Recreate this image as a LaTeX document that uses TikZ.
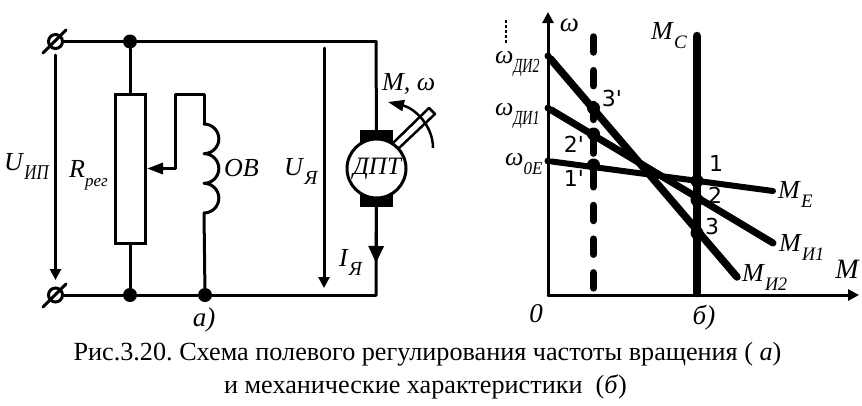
\documentclass[tikz,border=0pt]{standalone}
\usepackage{fontspec}
\usepackage{graphicx}
\setmainfont{Liberation Serif}
\newfontfamily\digitfont{DejaVu Sans}
\usetikzlibrary{arrows.meta}
\frenchspacing
\newcommand{\sublabel}[4]{\textit{#3}\raisebox{-9pt}{\scalebox{#2}[1]{\fontsize{#1}{#1}\selectfont\itshape #4}}}
\tikzset{
	wire/.style={line width=3pt, line cap=round, line join=round},
	junction/.style={circle, fill=black, inner sep=0pt, minimum size=14pt},
	terminal/.style={circle, draw=black, line width=3pt, fill=white, inner sep=0pt, minimum size=14pt},
	label/.style={inner sep=0pt, anchor=base west, font=\fontsize{26}{26}\selectfont},
	bigital/.style={inner sep=0pt, font=\fontsize{27}{27}\selectfont\itshape},
	digit/.style={inner sep=0pt, font=\fontsize{22}{22}\selectfont\digitfont},
	chardot/.style={circle, fill=black, inner sep=0pt, minimum size=13pt},
	axisdot/.style={circle, fill=black, inner sep=0pt, minimum size=7pt},
	charline/.style={line width=7.5pt, line cap=round},
	volt/.style={wire, -{Triangle[length=11pt, width=11pt]}},
	brush/.style={fill=black, minimum width=33pt, minimum height=12pt, inner sep=0pt}
}
\begin{document}
\begin{tikzpicture}[x=1pt, y=-1pt]
	\useasboundingbox (0, 0) rectangle (862, 405);
	%%%%% circuit %%%%%
	\node[terminal] (termtop) at (55.5, 41.5) {};
	\node[terminal] (termbot) at (55.5, 295) {};
	\node[junction] (jtop) at (130, 41.5) {};
	\node[junction] (jbot) at (130, 295) {};
	\node[junction] (jcoil) at (205, 295) {};
	\coordinate (cornertop) at (376, 41.5);
	\coordinate (cornerbot) at (376, 295);
	\draw[wire] (termtop) -- (jtop) -- (cornertop);
	\draw[wire] (termbot) -- (jbot) -- (jcoil) -- (cornerbot);
	\draw[wire] (43, 53) -- (66, 30);
	\draw[wire] (43, 307) -- (66, 284);
	
	\node[draw, line width=3pt, minimum width=30pt, minimum height=149pt, inner sep=0pt] (rreg) at (130.5, 168.5) {};
	\draw[wire] (jtop) -- (rreg.north -| jtop);
	\draw[wire] (rreg.south -| jbot) -- (jbot);
	
	\coordinate (wiper) at (175.5, 168.5);
	\coordinate (coiltop) at (204, 124);
	\coordinate (coilbot) at (204, 213);
	\draw[wire, -{Triangle[length=16pt, width=11pt]}] (wiper) -- (147, 168.5);
	\draw[wire] (wiper) -- (175.5, 94) -- (204, 94) -- (coiltop);
	\draw[wire] (coiltop) arc (270:450:14.83) arc (270:450:14.83) arc (270:450:14.83);
	\draw[wire] (coilbot) -- (jcoil);
	
	\node[brush] (brushtop) at (376.5, 136) {};
	\node[brush] (brushbot) at (376.5, 201) {};
	\node[draw, circle, fill=white, line width=3pt, minimum size=59pt, inner sep=0pt] (motor) at (376.5, 168.5) {};
	\node[bigital, font=\fontsize{25}{25}\selectfont\itshape] (dpt) at (377, 169) {ДПТ};
	\draw[wire] (cornertop) -- (brushtop);
	\draw[wire] (brushbot) -- (cornerbot);
	\draw[wire, -{Triangle[length=17pt, width=15pt]}] (brushbot) -- (376, 263);
	
	% shaft
	\draw[line width=2.5pt, line join=round] (393, 143) -- (429, 108) -- (435, 114) -- (398, 149);
	\draw[line width=2.5pt, -{Triangle[length=16pt, width=11pt]}] (433, 148) .. controls (433, 125) and (414, 108) .. (388, 102);
	
	\draw[volt] (55.5, 55) -- (55.5, 280);
	\draw[volt] (324, 48) -- (324, 288);
	
	\node[label] (uip) at (4, 170) {\sublabel{21}{0.8}{U}{ИП}};
	\node[label] (rlab) at (69, 177) {\sublabel{17}{1}{R}{рег}};
	\node[label] (ov) at (224, 176) {\textit{ОВ}};
	\node[label] (uja) at (284, 175) {\sublabel{20}{1}{U}{Я}};
	\node[label] (ija) at (339, 266) {\sublabel{20}{1}{I}{Я}};
	\node[label] (momega) at (382, 90) {\textit{M, ω}};
	\node[bigital] (parta) at (204, 320) {а)};
	
	%%%%% characteristics %%%%%
	\coordinate (origin) at (548, 295);
	\coordinate (omegatip) at (548, 12);
	\coordinate (mtip) at (859, 295);
	\draw[wire, -{Triangle[length=11pt, width=11pt]}] (origin) -- (omegatip);
	\draw[wire, -{Triangle[length=11pt, width=11pt]}] (origin) -- (mtip);
	\draw[line width=2.5pt, dash pattern=on 2.5pt off 2.5pt] (506, 20) -- (506, 43);
	
	\draw[line width=7.5pt, line cap=round, dash pattern=on 15pt off 18.7pt] (593.5, 37) -- (593.5, 290);
	\draw[line width=8.5pt, line cap=round] (697, 36) -- (697, 293);
	
	\node[axisdot] (w2) at (548, 56) {};
	\node[axisdot] (w1) at (548, 108) {};
	\node[axisdot] (w0) at (548, 161) {};
	\coordinate (mi2) at (737, 277);
	\coordinate (mi1) at (773, 243);
	\coordinate (me) at (773, 191);
	\draw[charline] (w2) -- (mi2);
	\draw[charline, line width=7pt] (w1) -- (mi1);
	\draw[charline, line width=6pt] (w0) -- (me);
	
	\node[chardot] (p1s) at (593.5, 165) {};
	\node[chardot] (p2s) at (593.5, 134) {};
	\node[chardot] (p3s) at (593.5, 108) {};
	\node[chardot] (p1) at (697, 181) {};
	\node[chardot] (p2) at (697, 200) {};
	\node[chardot] (p3) at (697, 233) {};
	
	\node[digit] (n3s) at (612, 98) {3'};
	\node[digit] (n2s) at (574, 144) {2'};
	\node[digit] (n1s) at (574, 178) {1'};
	\node[digit] (n1) at (716, 163) {1};
	\node[digit] (n2) at (715, 195) {2};
	\node[digit] (n3) at (712, 226) {3};
	
	\node[bigital] (womega) at (569.5, 25) {ω};
	\node[label] (mc) at (651, 39) {\sublabel{19}{1}{M}{С}};
	\node[label] (wdi2) at (495, 63) {\sublabel{20}{0.7}{ω}{ДИ2}};
	\node[label] (wdi1) at (495, 115) {\sublabel{20}{0.7}{ω}{ДИ1}};
	\node[label] (w0e) at (505, 165) {\sublabel{18}{0.95}{ω}{0Е}};
	\node[label] (lme) at (778, 198) {\sublabel{19}{1}{M}{Е}};
	\node[label] (lmi1) at (779, 251) {\sublabel{19}{0.95}{M}{И1}};
	\node[label] (lmi2) at (742, 281) {\sublabel{19}{0.95}{M}{И2}};
	\node[bigital, font=\fontsize{28}{28}\selectfont\itshape] (lm) at (847, 269) {M};
	\node[bigital] (lzero) at (536, 314) {0};
	\node[bigital] (partb) at (704, 318) {б)};
	
	%%%%% caption %%%%%
	\node[inner sep=0pt, font=\fontsize{26.2}{26.2}\selectfont] (capa) at (427.5, 354) {Рис.3.20. Схема полевого регулирования частоты вращения ( \textit{а})};
	\node[inner sep=0pt, font=\fontsize{26.2}{26.2}\selectfont] (capb) at (425.5, 387) {и механические характеристики\ \ (\textit{б})};
\end{tikzpicture}
\end{document}
